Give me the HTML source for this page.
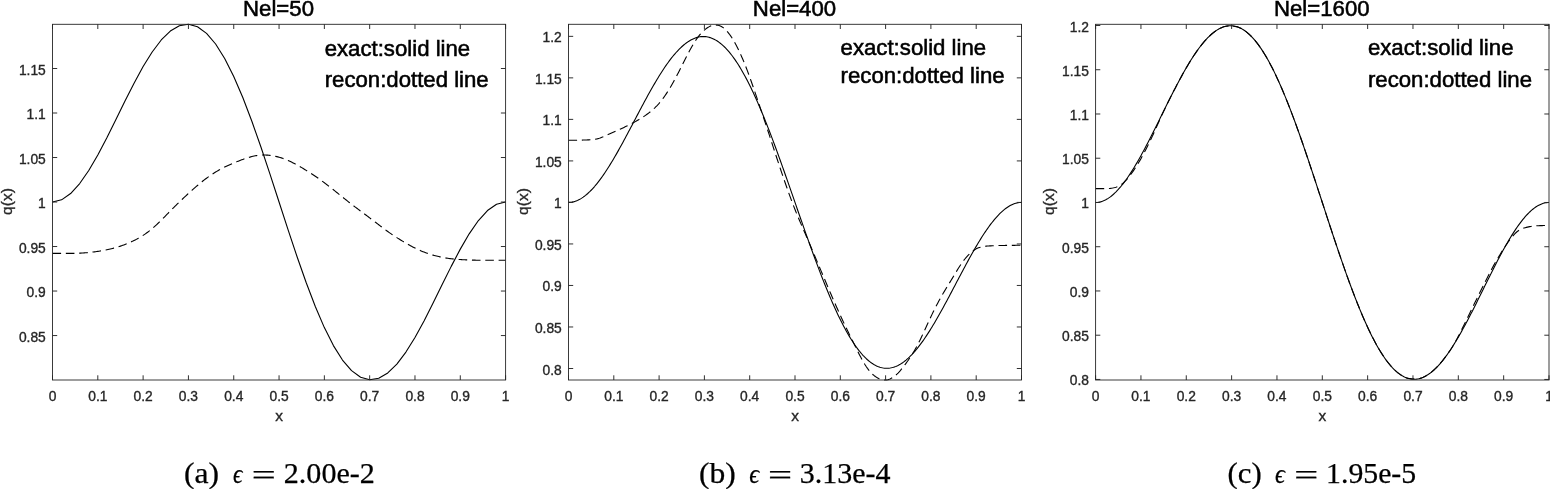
<!DOCTYPE html>
<html lang="en"><head><meta charset="utf-8"><title>Reconstruction of q(x)</title>
<style>
html,body{margin:0;padding:0;background:#fff;}
body{width:1550px;height:489px;overflow:hidden;}
svg{display:block;}
text{fill:#000;}
.tl{font-family:"Liberation Sans", Arial, Helvetica, sans-serif;font-size:13.8px;fill:#262626;stroke:#262626;stroke-width:0.35px;}
.lb{font-family:"Liberation Sans", Arial, Helvetica, sans-serif;font-size:15.5px;fill:#262626;stroke:#262626;stroke-width:0.35px;}
.tt{font-family:"Liberation Sans", Arial, Helvetica, sans-serif;font-size:22.2px;fill:#000;stroke:#000;stroke-width:0.55px;}
.cp{font-family:"Liberation Serif", "DejaVu Serif", serif;font-size:29px;fill:#000;stroke:#000;stroke-width:0.25px;}
.ep{font-style:italic;}
.ax{fill:none;stroke:#262626;stroke-width:0.9;}
.tk{fill:none;stroke:#262626;stroke-width:0.95;}
.cv{fill:none;stroke:#000;stroke-width:1.1;stroke-linejoin:round;}
.ds{stroke-dasharray:8.6 4.74;}
</style></head>
<body>
<svg width="1550" height="489" viewBox="0 0 1550 489">
<rect width="1550" height="489" fill="#fff"/>
<path d="M52.50,202.02 L61.56,199.84 L70.62,193.52 L79.69,183.54 L88.75,170.46 L97.81,154.93 L106.87,137.68 L115.93,119.44 L125.00,101.01 L134.06,83.14 L143.12,66.57 L152.18,51.98 L161.24,39.98 L170.31,31.09 L179.37,25.75 L188.43,24.30 L197.49,26.76 L206.55,33.37 L215.62,44.00 L224.68,58.46 L233.74,76.45 L242.80,97.56 L251.86,121.28 L260.93,147.04 L269.99,174.18 L279.05,202.02 L288.11,229.87 L297.17,257.01 L306.24,282.77 L315.30,306.49 L324.36,327.60 L333.42,345.59 L342.48,360.05 L351.55,370.68 L360.61,377.29 L369.67,379.81 L378.73,378.30 L387.79,372.96 L396.86,364.07 L405.92,352.07 L414.98,337.48 L424.04,320.91 L433.10,303.04 L442.17,284.61 L451.23,266.37 L460.29,249.12 L469.35,233.59 L478.41,220.51 L487.48,210.53 L496.54,204.21 L505.60,202.02" class="cv"/>
<path d="M52.50,253.40 L53.63,253.40 L54.77,253.40 L55.90,253.40 L57.03,253.40 L58.16,253.40 L59.30,253.40 L60.43,253.40 L61.56,253.40 L62.69,253.40 L63.83,253.40 L64.96,253.40 L66.09,253.40 L67.23,253.40 L68.36,253.39 L69.49,253.39 L70.62,253.38 L71.76,253.37 L72.89,253.36 L74.02,253.34 L75.16,253.32 L76.29,253.29 L77.42,253.25 L78.55,253.21 L79.69,253.16 L80.82,253.10 L81.95,253.03 L83.08,252.96 L84.22,252.88 L85.35,252.79 L86.48,252.69 L87.62,252.59 L88.75,252.48 L89.88,252.36 L91.01,252.24 L92.15,252.11 L93.28,251.98 L94.41,251.84 L95.54,251.69 L96.68,251.54 L97.81,251.38 L98.94,251.21 L100.08,251.04 L101.21,250.85 L102.34,250.66 L103.47,250.45 L104.61,250.23 L105.74,250.01 L106.87,249.77 L108.00,249.52 L109.14,249.26 L110.27,248.99 L111.40,248.72 L112.54,248.43 L113.67,248.13 L114.80,247.82 L115.93,247.50 L117.07,247.17 L118.20,246.83 L119.33,246.48 L120.47,246.11 L121.60,245.73 L122.73,245.34 L123.86,244.93 L125.00,244.50 L126.13,244.06 L127.26,243.61 L128.39,243.14 L129.53,242.65 L130.66,242.15 L131.79,241.62 L132.93,241.09 L134.06,240.53 L135.19,239.96 L136.32,239.37 L137.46,238.76 L138.59,238.13 L139.72,237.47 L140.85,236.80 L141.99,236.10 L143.12,235.38 L144.25,234.64 L145.39,233.86 L146.52,233.06 L147.65,232.23 L148.78,231.37 L149.92,230.48 L151.05,229.56 L152.18,228.61 L153.31,227.64 L154.45,226.64 L155.58,225.61 L156.71,224.57 L157.85,223.50 L158.98,222.41 L160.11,221.31 L161.24,220.19 L162.38,219.06 L163.51,217.92 L164.64,216.77 L165.78,215.61 L166.91,214.45 L168.04,213.29 L169.17,212.13 L170.31,210.97 L171.44,209.82 L172.57,208.67 L173.70,207.54 L174.84,206.41 L175.97,205.29 L177.10,204.18 L178.24,203.08 L179.37,201.98 L180.50,200.90 L181.63,199.82 L182.77,198.75 L183.90,197.69 L185.03,196.63 L186.16,195.57 L187.30,194.53 L188.43,193.49 L189.56,192.46 L190.70,191.43 L191.83,190.42 L192.96,189.41 L194.09,188.41 L195.23,187.42 L196.36,186.43 L197.49,185.46 L198.62,184.51 L199.76,183.56 L200.89,182.62 L202.02,181.70 L203.16,180.80 L204.29,179.91 L205.42,179.04 L206.55,178.19 L207.69,177.35 L208.82,176.54 L209.95,175.74 L211.09,174.97 L212.22,174.22 L213.35,173.48 L214.48,172.77 L215.62,172.07 L216.75,171.39 L217.88,170.73 L219.01,170.09 L220.15,169.46 L221.28,168.85 L222.41,168.26 L223.55,167.68 L224.68,167.11 L225.81,166.56 L226.94,166.02 L228.08,165.49 L229.21,164.97 L230.34,164.46 L231.47,163.96 L232.61,163.47 L233.74,162.99 L234.87,162.52 L236.01,162.05 L237.14,161.60 L238.27,161.15 L239.40,160.70 L240.54,160.27 L241.67,159.84 L242.80,159.42 L243.93,159.02 L245.07,158.62 L246.20,158.23 L247.33,157.86 L248.47,157.51 L249.60,157.17 L250.73,156.85 L251.86,156.56 L253.00,156.29 L254.13,156.04 L255.26,155.82 L256.39,155.63 L257.53,155.46 L258.66,155.33 L259.79,155.21 L260.93,155.13 L262.06,155.07 L263.19,155.04 L264.32,155.03 L265.46,155.05 L266.59,155.10 L267.72,155.17 L268.86,155.27 L269.99,155.39 L271.12,155.54 L272.25,155.71 L273.39,155.90 L274.52,156.11 L275.65,156.35 L276.78,156.60 L277.92,156.88 L279.05,157.19 L280.18,157.51 L281.32,157.86 L282.45,158.24 L283.58,158.64 L284.71,159.07 L285.85,159.52 L286.98,159.99 L288.11,160.48 L289.24,160.99 L290.38,161.53 L291.51,162.07 L292.64,162.64 L293.78,163.22 L294.91,163.81 L296.04,164.42 L297.17,165.04 L298.31,165.68 L299.44,166.32 L300.57,166.97 L301.71,167.64 L302.84,168.31 L303.97,168.99 L305.10,169.67 L306.24,170.37 L307.37,171.07 L308.50,171.78 L309.63,172.50 L310.77,173.22 L311.90,173.96 L313.03,174.70 L314.17,175.46 L315.30,176.23 L316.43,177.01 L317.56,177.79 L318.70,178.59 L319.83,179.40 L320.96,180.23 L322.09,181.06 L323.23,181.90 L324.36,182.74 L325.49,183.60 L326.63,184.47 L327.76,185.34 L328.89,186.22 L330.02,187.10 L331.16,187.99 L332.29,188.89 L333.42,189.79 L334.55,190.69 L335.69,191.60 L336.82,192.51 L337.95,193.42 L339.09,194.33 L340.22,195.24 L341.35,196.15 L342.48,197.06 L343.62,197.97 L344.75,198.87 L345.88,199.78 L347.02,200.67 L348.15,201.57 L349.28,202.46 L350.41,203.34 L351.55,204.22 L352.68,205.09 L353.81,205.96 L354.94,206.82 L356.08,207.68 L357.21,208.53 L358.34,209.38 L359.48,210.22 L360.61,211.07 L361.74,211.91 L362.87,212.76 L364.01,213.60 L365.14,214.45 L366.27,215.30 L367.40,216.15 L368.54,217.01 L369.67,217.87 L370.80,218.73 L371.94,219.59 L373.07,220.45 L374.20,221.32 L375.33,222.18 L376.47,223.05 L377.60,223.91 L378.73,224.78 L379.86,225.64 L381.00,226.50 L382.13,227.36 L383.26,228.21 L384.40,229.05 L385.53,229.89 L386.66,230.71 L387.79,231.53 L388.93,232.33 L390.06,233.13 L391.19,233.91 L392.33,234.68 L393.46,235.44 L394.59,236.19 L395.72,236.93 L396.86,237.65 L397.99,238.37 L399.12,239.08 L400.25,239.78 L401.39,240.47 L402.52,241.15 L403.65,241.83 L404.79,242.49 L405.92,243.15 L407.05,243.80 L408.18,244.44 L409.32,245.07 L410.45,245.69 L411.58,246.30 L412.71,246.89 L413.85,247.48 L414.98,248.05 L416.11,248.61 L417.25,249.16 L418.38,249.69 L419.51,250.20 L420.64,250.70 L421.78,251.18 L422.91,251.65 L424.04,252.10 L425.17,252.53 L426.31,252.94 L427.44,253.34 L428.57,253.73 L429.71,254.10 L430.84,254.45 L431.97,254.79 L433.10,255.12 L434.24,255.44 L435.37,255.74 L436.50,256.03 L437.63,256.31 L438.77,256.58 L439.90,256.84 L441.03,257.09 L442.17,257.32 L443.30,257.54 L444.43,257.75 L445.56,257.95 L446.70,258.14 L447.83,258.31 L448.96,258.47 L450.10,258.62 L451.23,258.76 L452.36,258.89 L453.49,259.01 L454.63,259.11 L455.76,259.21 L456.89,259.31 L458.02,259.40 L459.16,259.48 L460.29,259.55 L461.42,259.62 L462.56,259.69 L463.69,259.75 L464.82,259.80 L465.95,259.86 L467.09,259.90 L468.22,259.95 L469.35,259.99 L470.48,260.03 L471.62,260.07 L472.75,260.10 L473.88,260.13 L475.02,260.16 L476.15,260.18 L477.28,260.20 L478.41,260.22 L479.55,260.24 L480.68,260.25 L481.81,260.26 L482.95,260.27 L484.08,260.28 L485.21,260.29 L486.34,260.29 L487.48,260.29 L488.61,260.30 L489.74,260.30 L490.87,260.30 L492.01,260.30 L493.14,260.30 L494.27,260.30 L495.41,260.30 L496.54,260.30 L497.67,260.30 L498.80,260.30 L499.94,260.30 L501.07,260.30 L502.20,260.30 L503.33,260.30 L504.47,260.30 L505.60,260.30" class="cv ds"/>
<rect x="52.50" y="24.30" width="453.10" height="355.70" class="ax"/>
<text x="52.50" y="400.80" class="tl" text-anchor="middle">0</text>
<text x="97.81" y="400.80" class="tl" text-anchor="middle">0.1</text>
<text x="143.12" y="400.80" class="tl" text-anchor="middle">0.2</text>
<text x="188.43" y="400.80" class="tl" text-anchor="middle">0.3</text>
<text x="233.74" y="400.80" class="tl" text-anchor="middle">0.4</text>
<text x="279.05" y="400.80" class="tl" text-anchor="middle">0.5</text>
<text x="324.36" y="400.80" class="tl" text-anchor="middle">0.6</text>
<text x="369.67" y="400.80" class="tl" text-anchor="middle">0.7</text>
<text x="414.98" y="400.80" class="tl" text-anchor="middle">0.8</text>
<text x="460.29" y="400.80" class="tl" text-anchor="middle">0.9</text>
<text x="505.60" y="400.80" class="tl" text-anchor="middle">1</text>
<text x="45.80" y="341.55" class="tl" text-anchor="end">0.85</text>
<text x="45.80" y="297.04" class="tl" text-anchor="end">0.9</text>
<text x="45.80" y="252.53" class="tl" text-anchor="end">0.95</text>
<text x="45.80" y="208.02" class="tl" text-anchor="end">1</text>
<text x="45.80" y="163.52" class="tl" text-anchor="end">1.05</text>
<text x="45.80" y="119.01" class="tl" text-anchor="end">1.1</text>
<text x="45.80" y="74.50" class="tl" text-anchor="end">1.15</text>
<path d="M52.50,380.00v-4.7M52.50,24.30v4.7M97.81,380.00v-4.7M97.81,24.30v4.7M143.12,380.00v-4.7M143.12,24.30v4.7M188.43,380.00v-4.7M188.43,24.30v4.7M233.74,380.00v-4.7M233.74,24.30v4.7M279.05,380.00v-4.7M279.05,24.30v4.7M324.36,380.00v-4.7M324.36,24.30v4.7M369.67,380.00v-4.7M369.67,24.30v4.7M414.98,380.00v-4.7M414.98,24.30v4.7M460.29,380.00v-4.7M460.29,24.30v4.7M505.60,380.00v-4.7M505.60,24.30v4.7M52.50,335.55h4.7M505.60,335.55h-4.7M52.50,291.04h4.7M505.60,291.04h-4.7M52.50,246.53h4.7M505.60,246.53h-4.7M52.50,202.02h4.7M505.60,202.02h-4.7M52.50,157.52h4.7M505.60,157.52h-4.7M52.50,113.01h4.7M505.60,113.01h-4.7M52.50,68.50h4.7M505.60,68.50h-4.7" class="tk"/>
<text x="278.55" y="15.8" class="tt" text-anchor="middle">Nel=50</text>
<text x="279.05" y="421.2" class="lb" text-anchor="middle">x</text>
<text transform="translate(11.90,201.55) rotate(-90)" class="lb" text-anchor="middle">q(x)</text>
<text x="324.66" y="55.6" class="tt">exact:solid line</text>
<text x="324.66" y="86.9" class="tt">recon:dotted line</text>
<path d="M568.50,202.42 L569.63,202.39 L570.76,202.30 L571.90,202.13 L573.03,201.91 L574.16,201.62 L575.29,201.27 L576.43,200.86 L577.56,200.39 L578.69,199.85 L579.83,199.26 L580.96,198.61 L582.09,197.90 L583.22,197.13 L584.36,196.31 L585.49,195.43 L586.62,194.50 L587.75,193.51 L588.88,192.47 L590.02,191.38 L591.15,190.24 L592.28,189.05 L593.41,187.81 L594.55,186.52 L595.68,185.18 L596.81,183.81 L597.95,182.38 L599.08,180.92 L600.21,179.41 L601.34,177.86 L602.48,176.27 L603.61,174.65 L604.74,172.98 L605.87,171.28 L607.00,169.55 L608.14,167.78 L609.27,165.98 L610.40,164.16 L611.53,162.30 L612.67,160.41 L613.80,158.50 L614.93,156.56 L616.07,154.60 L617.20,152.61 L618.33,150.61 L619.46,148.58 L620.60,146.54 L621.73,144.48 L622.86,142.40 L623.99,140.31 L625.12,138.20 L626.26,136.09 L627.39,133.96 L628.52,131.83 L629.65,129.69 L630.79,127.54 L631.92,125.39 L633.05,123.24 L634.18,121.08 L635.32,118.93 L636.45,116.77 L637.58,114.62 L638.72,112.47 L639.85,110.33 L640.98,108.20 L642.11,106.07 L643.25,103.95 L644.38,101.85 L645.51,99.75 L646.64,97.67 L647.77,95.61 L648.91,93.56 L650.04,91.53 L651.17,89.51 L652.30,87.52 L653.44,85.55 L654.57,83.60 L655.70,81.68 L656.84,79.78 L657.97,77.91 L659.10,76.07 L660.23,74.25 L661.37,72.47 L662.50,70.71 L663.63,68.99 L664.76,67.31 L665.89,65.65 L667.03,64.04 L668.16,62.46 L669.29,60.91 L670.42,59.41 L671.56,57.95 L672.69,56.53 L673.82,55.14 L674.96,53.81 L676.09,52.51 L677.22,51.26 L678.35,50.06 L679.49,48.90 L680.62,47.79 L681.75,46.73 L682.88,45.72 L684.01,44.75 L685.15,43.84 L686.28,42.98 L687.41,42.17 L688.54,41.41 L689.68,40.70 L690.81,40.05 L691.94,39.45 L693.08,38.91 L694.21,38.42 L695.34,37.99 L696.47,37.61 L697.61,37.29 L698.74,37.03 L699.87,36.82 L701.00,36.67 L702.13,36.58 L703.27,36.55 L704.40,36.58 L705.53,36.67 L706.66,36.81 L707.80,37.02 L708.93,37.28 L710.06,37.60 L711.19,37.99 L712.33,38.43 L713.46,38.93 L714.59,39.49 L715.73,40.12 L716.86,40.80 L717.99,41.54 L719.12,42.34 L720.25,43.20 L721.39,44.12 L722.52,45.10 L723.65,46.13 L724.79,47.23 L725.92,48.38 L727.05,49.59 L728.18,50.86 L729.32,52.19 L730.45,53.57 L731.58,55.01 L732.71,56.51 L733.85,58.06 L734.98,59.66 L736.11,61.33 L737.24,63.04 L738.38,64.81 L739.51,66.63 L740.64,68.50 L741.77,70.43 L742.90,72.40 L744.04,74.43 L745.17,76.50 L746.30,78.63 L747.43,80.80 L748.57,83.02 L749.70,85.29 L750.83,87.60 L751.97,89.95 L753.10,92.35 L754.23,94.79 L755.36,97.28 L756.50,99.81 L757.63,102.37 L758.76,104.98 L759.89,107.62 L761.02,110.30 L762.16,113.02 L763.29,115.77 L764.42,118.55 L765.56,121.37 L766.69,124.22 L767.82,127.11 L768.95,130.02 L770.09,132.96 L771.22,135.92 L772.35,138.92 L773.48,141.93 L774.62,144.98 L775.75,148.04 L776.88,151.13 L778.01,154.24 L779.14,157.36 L780.28,160.51 L781.41,163.67 L782.54,166.84 L783.67,170.03 L784.81,173.23 L785.94,176.45 L787.07,179.67 L788.20,182.91 L789.34,186.15 L790.47,189.40 L791.60,192.65 L792.74,195.90 L793.87,199.16 L795.00,202.42 L796.13,205.69 L797.26,208.95 L798.40,212.20 L799.53,215.45 L800.66,218.70 L801.80,221.94 L802.93,225.18 L804.06,228.40 L805.19,231.62 L806.33,234.82 L807.46,238.01 L808.59,241.18 L809.72,244.34 L810.86,247.49 L811.99,250.61 L813.12,253.72 L814.25,256.81 L815.38,259.87 L816.52,262.92 L817.65,265.93 L818.78,268.93 L819.91,271.89 L821.05,274.83 L822.18,277.74 L823.31,280.63 L824.45,283.48 L825.58,286.30 L826.71,289.08 L827.84,291.83 L828.98,294.55 L830.11,297.23 L831.24,299.87 L832.37,302.48 L833.50,305.04 L834.64,307.57 L835.77,310.06 L836.90,312.50 L838.03,314.90 L839.17,317.25 L840.30,319.56 L841.43,321.83 L842.57,324.05 L843.70,326.22 L844.83,328.35 L845.96,330.42 L847.10,332.45 L848.23,334.42 L849.36,336.35 L850.49,338.22 L851.62,340.04 L852.76,341.81 L853.89,343.52 L855.02,345.19 L856.15,346.79 L857.29,348.34 L858.42,349.84 L859.55,351.28 L860.68,352.66 L861.82,353.99 L862.95,355.26 L864.08,356.47 L865.22,357.62 L866.35,358.72 L867.48,359.75 L868.61,360.73 L869.75,361.65 L870.88,362.51 L872.01,363.31 L873.14,364.05 L874.28,364.73 L875.41,365.36 L876.54,365.92 L877.67,366.42 L878.81,366.86 L879.94,367.25 L881.07,367.57 L882.20,367.83 L883.34,368.04 L884.47,368.18 L885.60,368.27 L886.73,368.30 L887.87,368.27 L889.00,368.18 L890.13,368.03 L891.26,367.82 L892.39,367.56 L893.53,367.24 L894.66,366.86 L895.79,366.43 L896.92,365.94 L898.06,365.40 L899.19,364.80 L900.32,364.15 L901.45,363.44 L902.59,362.68 L903.72,361.87 L904.85,361.01 L905.99,360.10 L907.12,359.13 L908.25,358.12 L909.38,357.06 L910.51,355.95 L911.65,354.79 L912.78,353.59 L913.91,352.34 L915.05,351.04 L916.18,349.71 L917.31,348.32 L918.44,346.90 L919.58,345.44 L920.71,343.94 L921.84,342.39 L922.97,340.81 L924.11,339.20 L925.24,337.54 L926.37,335.86 L927.50,334.14 L928.63,332.38 L929.77,330.60 L930.90,328.78 L932.03,326.94 L933.16,325.07 L934.30,323.17 L935.43,321.25 L936.56,319.30 L937.70,317.33 L938.83,315.34 L939.96,313.32 L941.09,311.29 L942.23,309.24 L943.36,307.18 L944.49,305.10 L945.62,303.00 L946.75,300.90 L947.89,298.78 L949.02,296.65 L950.15,294.52 L951.28,292.38 L952.42,290.23 L953.55,288.08 L954.68,285.92 L955.82,283.77 L956.95,281.61 L958.08,279.46 L959.21,277.31 L960.35,275.16 L961.48,273.02 L962.61,270.89 L963.74,268.76 L964.88,266.65 L966.01,264.54 L967.14,262.45 L968.27,260.37 L969.40,258.31 L970.54,256.27 L971.67,254.24 L972.80,252.24 L973.93,250.25 L975.07,248.29 L976.20,246.35 L977.33,244.44 L978.47,242.55 L979.60,240.69 L980.73,238.87 L981.86,237.07 L983.00,235.30 L984.13,233.57 L985.26,231.87 L986.39,230.20 L987.53,228.58 L988.66,226.99 L989.79,225.44 L990.92,223.93 L992.06,222.47 L993.19,221.04 L994.32,219.67 L995.45,218.33 L996.59,217.04 L997.72,215.80 L998.85,214.61 L999.98,213.47 L1001.12,212.38 L1002.25,211.34 L1003.38,210.35 L1004.51,209.42 L1005.64,208.54 L1006.78,207.72 L1007.91,206.95 L1009.04,206.24 L1010.17,205.59 L1011.31,205.00 L1012.44,204.46 L1013.57,203.99 L1014.70,203.58 L1015.84,203.23 L1016.97,202.94 L1018.10,202.72 L1019.24,202.55 L1020.37,202.46 L1021.50,202.42" class="cv"/>
<path d="M568.50,140.29 L569.63,140.29 L570.76,140.28 L571.90,140.28 L573.03,140.27 L574.16,140.25 L575.29,140.24 L576.43,140.22 L577.56,140.20 L578.69,140.18 L579.83,140.15 L580.96,140.13 L582.09,140.10 L583.22,140.06 L584.36,140.03 L585.49,139.99 L586.62,139.94 L587.75,139.90 L588.88,139.84 L590.02,139.78 L591.15,139.71 L592.28,139.62 L593.41,139.50 L594.55,139.35 L595.68,139.16 L596.81,138.92 L597.95,138.64 L599.08,138.30 L600.21,137.92 L601.34,137.50 L602.48,137.05 L603.61,136.57 L604.74,136.07 L605.87,135.57 L607.00,135.07 L608.14,134.57 L609.27,134.07 L610.40,133.57 L611.53,133.07 L612.67,132.58 L613.80,132.08 L614.93,131.58 L616.07,131.08 L617.20,130.57 L618.33,130.05 L619.46,129.53 L620.60,129.01 L621.73,128.48 L622.86,127.95 L623.99,127.41 L625.12,126.86 L626.26,126.31 L627.39,125.76 L628.52,125.19 L629.65,124.62 L630.79,124.04 L631.92,123.45 L633.05,122.85 L634.18,122.23 L635.32,121.61 L636.45,120.98 L637.58,120.34 L638.72,119.68 L639.85,119.00 L640.98,118.31 L642.11,117.60 L643.25,116.87 L644.38,116.12 L645.51,115.34 L646.64,114.54 L647.77,113.71 L648.91,112.85 L650.04,111.97 L651.17,111.05 L652.30,110.09 L653.44,109.09 L654.57,108.05 L655.70,106.95 L656.84,105.81 L657.97,104.60 L659.10,103.33 L660.23,101.99 L661.37,100.59 L662.50,99.12 L663.63,97.58 L664.76,95.98 L665.89,94.33 L667.03,92.62 L668.16,90.85 L669.29,89.03 L670.42,87.16 L671.56,85.23 L672.69,83.25 L673.82,81.21 L674.96,79.13 L676.09,77.01 L677.22,74.85 L678.35,72.66 L679.49,70.46 L680.62,68.24 L681.75,66.02 L682.88,63.79 L684.01,61.56 L685.15,59.32 L686.28,57.09 L687.41,54.87 L688.54,52.68 L689.68,50.53 L690.81,48.44 L691.94,46.42 L693.08,44.48 L694.21,42.62 L695.34,40.86 L696.47,39.19 L697.61,37.61 L698.74,36.12 L699.87,34.72 L701.00,33.42 L702.13,32.21 L703.27,31.09 L704.40,30.08 L705.53,29.15 L706.66,28.30 L707.80,27.54 L708.93,26.87 L710.06,26.30 L711.19,25.82 L712.33,25.45 L713.46,25.19 L714.59,25.05 L715.73,25.01 L716.86,25.09 L717.99,25.28 L719.12,25.58 L720.25,25.98 L721.39,26.51 L722.52,27.16 L723.65,27.96 L724.79,28.90 L725.92,29.99 L727.05,31.21 L728.18,32.57 L729.32,34.05 L730.45,35.63 L731.58,37.31 L732.71,39.10 L733.85,40.98 L734.98,42.97 L736.11,45.06 L737.24,47.24 L738.38,49.52 L739.51,51.90 L740.64,54.36 L741.77,56.91 L742.90,59.53 L744.04,62.25 L745.17,65.05 L746.30,67.94 L747.43,70.91 L748.57,73.96 L749.70,77.09 L750.83,80.27 L751.97,83.50 L753.10,86.77 L754.23,90.06 L755.36,93.37 L756.50,96.68 L757.63,100.01 L758.76,103.35 L759.89,106.70 L761.02,110.06 L762.16,113.44 L763.29,116.83 L764.42,120.23 L765.56,123.64 L766.69,127.06 L767.82,130.50 L768.95,133.95 L770.09,137.41 L771.22,140.88 L772.35,144.36 L773.48,147.84 L774.62,151.32 L775.75,154.79 L776.88,158.24 L778.01,161.68 L779.14,165.09 L780.28,168.47 L781.41,171.83 L782.54,175.17 L783.67,178.47 L784.81,181.75 L785.94,185.01 L787.07,188.23 L788.20,191.42 L789.34,194.57 L790.47,197.67 L791.60,200.72 L792.74,203.72 L793.87,206.65 L795.00,209.53 L796.13,212.34 L797.26,215.10 L798.40,217.81 L799.53,220.47 L800.66,223.11 L801.80,225.73 L802.93,228.34 L804.06,230.94 L805.19,233.55 L806.33,236.17 L807.46,238.79 L808.59,241.43 L809.72,244.07 L810.86,246.73 L811.99,249.39 L813.12,252.07 L814.25,254.75 L815.38,257.44 L816.52,260.13 L817.65,262.82 L818.78,265.51 L819.91,268.20 L821.05,270.89 L822.18,273.57 L823.31,276.24 L824.45,278.91 L825.58,281.58 L826.71,284.24 L827.84,286.90 L828.98,289.55 L830.11,292.19 L831.24,294.83 L832.37,297.45 L833.50,300.05 L834.64,302.64 L835.77,305.22 L836.90,307.77 L838.03,310.30 L839.17,312.81 L840.30,315.29 L841.43,317.75 L842.57,320.19 L843.70,322.61 L844.83,325.00 L845.96,327.38 L847.10,329.73 L848.23,332.07 L849.36,334.39 L850.49,336.69 L851.62,338.99 L852.76,341.28 L853.89,343.57 L855.02,345.86 L856.15,348.14 L857.29,350.42 L858.42,352.67 L859.55,354.90 L860.68,357.08 L861.82,359.19 L862.95,361.23 L864.08,363.16 L865.22,365.00 L866.35,366.72 L867.48,368.33 L868.61,369.82 L869.75,371.21 L870.88,372.49 L872.01,373.67 L873.14,374.73 L874.28,375.70 L875.41,376.56 L876.54,377.33 L877.67,378.00 L878.81,378.59 L879.94,379.08 L881.07,379.49 L882.20,379.80 L883.34,380.00 L884.47,380.00 L885.60,380.00 L886.73,379.96 L887.87,379.71 L889.00,379.36 L890.13,378.90 L891.26,378.34 L892.39,377.69 L893.53,376.95 L894.66,376.11 L895.79,375.18 L896.92,374.15 L898.06,373.03 L899.19,371.81 L900.32,370.53 L901.45,369.18 L902.59,367.77 L903.72,366.33 L904.85,364.85 L905.99,363.34 L907.12,361.79 L908.25,360.20 L909.38,358.56 L910.51,356.88 L911.65,355.13 L912.78,353.33 L913.91,351.45 L915.05,349.50 L916.18,347.48 L917.31,345.38 L918.44,343.21 L919.58,340.97 L920.71,338.67 L921.84,336.31 L922.97,333.92 L924.11,331.49 L925.24,329.03 L926.37,326.56 L927.50,324.09 L928.63,321.63 L929.77,319.19 L930.90,316.77 L932.03,314.38 L933.16,312.04 L934.30,309.74 L935.43,307.49 L936.56,305.29 L937.70,303.14 L938.83,301.03 L939.96,298.97 L941.09,296.95 L942.23,294.97 L943.36,293.02 L944.49,291.11 L945.62,289.22 L946.75,287.36 L947.89,285.51 L949.02,283.67 L950.15,281.84 L951.28,279.99 L952.42,278.14 L953.55,276.28 L954.68,274.41 L955.82,272.53 L956.95,270.65 L958.08,268.80 L959.21,266.99 L960.35,265.23 L961.48,263.54 L962.61,261.94 L963.74,260.42 L964.88,258.99 L966.01,257.64 L967.14,256.38 L968.27,255.19 L969.40,254.06 L970.54,253.01 L971.67,252.01 L972.80,251.10 L973.93,250.26 L975.07,249.51 L976.20,248.86 L977.33,248.30 L978.47,247.83 L979.60,247.43 L980.73,247.11 L981.86,246.84 L983.00,246.62 L984.13,246.44 L985.26,246.30 L986.39,246.17 L987.53,246.07 L988.66,245.98 L989.79,245.90 L990.92,245.84 L992.06,245.78 L993.19,245.72 L994.32,245.68 L995.45,245.64 L996.59,245.60 L997.72,245.57 L998.85,245.54 L999.98,245.51 L1001.12,245.49 L1002.25,245.47 L1003.38,245.45 L1004.51,245.44 L1005.64,245.42 L1006.78,245.41 L1007.91,245.39 L1009.04,245.38 L1010.17,245.37 L1011.31,245.36 L1012.44,245.35 L1013.57,245.34 L1014.70,245.33 L1015.84,245.32 L1016.97,245.32 L1018.10,245.31 L1019.24,245.31 L1020.37,245.31 L1021.50,245.30" class="cv ds"/>
<rect x="568.50" y="24.30" width="453.00" height="355.70" class="ax"/>
<text x="568.50" y="400.80" class="tl" text-anchor="middle">0</text>
<text x="613.80" y="400.80" class="tl" text-anchor="middle">0.1</text>
<text x="659.10" y="400.80" class="tl" text-anchor="middle">0.2</text>
<text x="704.40" y="400.80" class="tl" text-anchor="middle">0.3</text>
<text x="749.70" y="400.80" class="tl" text-anchor="middle">0.4</text>
<text x="795.00" y="400.80" class="tl" text-anchor="middle">0.5</text>
<text x="840.30" y="400.80" class="tl" text-anchor="middle">0.6</text>
<text x="885.60" y="400.80" class="tl" text-anchor="middle">0.7</text>
<text x="930.90" y="400.80" class="tl" text-anchor="middle">0.8</text>
<text x="976.20" y="400.80" class="tl" text-anchor="middle">0.9</text>
<text x="1021.50" y="400.80" class="tl" text-anchor="middle">1</text>
<text x="561.80" y="374.50" class="tl" text-anchor="end">0.8</text>
<text x="561.80" y="332.98" class="tl" text-anchor="end">0.85</text>
<text x="561.80" y="291.46" class="tl" text-anchor="end">0.9</text>
<text x="561.80" y="249.94" class="tl" text-anchor="end">0.95</text>
<text x="561.80" y="208.42" class="tl" text-anchor="end">1</text>
<text x="561.80" y="166.91" class="tl" text-anchor="end">1.05</text>
<text x="561.80" y="125.39" class="tl" text-anchor="end">1.1</text>
<text x="561.80" y="83.87" class="tl" text-anchor="end">1.15</text>
<text x="561.80" y="42.35" class="tl" text-anchor="end">1.2</text>
<path d="M568.50,380.00v-4.7M568.50,24.30v4.7M613.80,380.00v-4.7M613.80,24.30v4.7M659.10,380.00v-4.7M659.10,24.30v4.7M704.40,380.00v-4.7M704.40,24.30v4.7M749.70,380.00v-4.7M749.70,24.30v4.7M795.00,380.00v-4.7M795.00,24.30v4.7M840.30,380.00v-4.7M840.30,24.30v4.7M885.60,380.00v-4.7M885.60,24.30v4.7M930.90,380.00v-4.7M930.90,24.30v4.7M976.20,380.00v-4.7M976.20,24.30v4.7M1021.50,380.00v-4.7M1021.50,24.30v4.7M568.50,368.50h4.7M1021.50,368.50h-4.7M568.50,326.98h4.7M1021.50,326.98h-4.7M568.50,285.46h4.7M1021.50,285.46h-4.7M568.50,243.94h4.7M1021.50,243.94h-4.7M568.50,202.42h4.7M1021.50,202.42h-4.7M568.50,160.91h4.7M1021.50,160.91h-4.7M568.50,119.39h4.7M1021.50,119.39h-4.7M568.50,77.87h4.7M1021.50,77.87h-4.7M568.50,36.35h4.7M1021.50,36.35h-4.7" class="tk"/>
<text x="794.50" y="15.8" class="tt" text-anchor="middle">Nel=400</text>
<text x="795.00" y="421.2" class="lb" text-anchor="middle">x</text>
<text transform="translate(527.90,201.55) rotate(-90)" class="lb" text-anchor="middle">q(x)</text>
<text x="840.60" y="54.5" class="tt">exact:solid line</text>
<text x="840.60" y="83.1" class="tt">recon:dotted line</text>
<path d="M1095.60,202.47 L1096.73,202.44 L1097.87,202.34 L1099.00,202.16 L1100.13,201.92 L1101.27,201.62 L1102.40,201.24 L1103.53,200.81 L1104.67,200.30 L1105.80,199.73 L1106.93,199.10 L1108.07,198.41 L1109.20,197.65 L1110.34,196.83 L1111.47,195.96 L1112.60,195.02 L1113.74,194.02 L1114.87,192.97 L1116.00,191.87 L1117.14,190.70 L1118.27,189.49 L1119.40,188.22 L1120.54,186.90 L1121.67,185.52 L1122.80,184.10 L1123.94,182.63 L1125.07,181.12 L1126.20,179.55 L1127.34,177.95 L1128.47,176.30 L1129.61,174.61 L1130.74,172.87 L1131.87,171.10 L1133.01,169.29 L1134.14,167.44 L1135.27,165.56 L1136.41,163.64 L1137.54,161.69 L1138.67,159.71 L1139.81,157.70 L1140.94,155.66 L1142.07,153.60 L1143.21,151.51 L1144.34,149.39 L1145.47,147.26 L1146.61,145.10 L1147.74,142.92 L1148.87,140.72 L1150.01,138.51 L1151.14,136.28 L1152.27,134.04 L1153.41,131.78 L1154.54,129.52 L1155.68,127.25 L1156.81,124.97 L1157.94,122.68 L1159.08,120.39 L1160.21,118.09 L1161.34,115.79 L1162.48,113.50 L1163.61,111.20 L1164.74,108.91 L1165.88,106.62 L1167.01,104.34 L1168.14,102.06 L1169.28,99.79 L1170.41,97.54 L1171.54,95.29 L1172.68,93.06 L1173.81,90.85 L1174.94,88.65 L1176.08,86.46 L1177.21,84.30 L1178.35,82.15 L1179.48,80.03 L1180.61,77.93 L1181.75,75.86 L1182.88,73.81 L1184.01,71.78 L1185.15,69.79 L1186.28,67.82 L1187.41,65.89 L1188.55,63.99 L1189.68,62.12 L1190.81,60.29 L1191.95,58.49 L1193.08,56.73 L1194.21,55.00 L1195.35,53.32 L1196.48,51.68 L1197.62,50.07 L1198.75,48.52 L1199.88,47.00 L1201.02,45.53 L1202.15,44.10 L1203.28,42.72 L1204.42,41.39 L1205.55,40.11 L1206.68,38.88 L1207.82,37.69 L1208.95,36.56 L1210.08,35.48 L1211.22,34.45 L1212.35,33.48 L1213.48,32.56 L1214.62,31.70 L1215.75,30.89 L1216.88,30.14 L1218.02,29.44 L1219.15,28.80 L1220.28,28.23 L1221.42,27.70 L1222.55,27.24 L1223.69,26.84 L1224.82,26.50 L1225.95,26.22 L1227.09,26.00 L1228.22,25.85 L1229.35,25.75 L1230.49,25.72 L1231.62,25.75 L1232.75,25.84 L1233.89,25.99 L1235.02,26.21 L1236.15,26.49 L1237.29,26.84 L1238.42,27.24 L1239.55,27.72 L1240.69,28.25 L1241.82,28.85 L1242.95,29.51 L1244.09,30.24 L1245.22,31.03 L1246.36,31.88 L1247.49,32.80 L1248.62,33.78 L1249.76,34.82 L1250.89,35.93 L1252.02,37.09 L1253.16,38.32 L1254.29,39.61 L1255.42,40.96 L1256.56,42.38 L1257.69,43.85 L1258.82,45.39 L1259.96,46.98 L1261.09,48.63 L1262.22,50.34 L1263.36,52.11 L1264.49,53.94 L1265.62,55.83 L1266.76,57.77 L1267.89,59.76 L1269.03,61.81 L1270.16,63.92 L1271.29,66.08 L1272.43,68.29 L1273.56,70.55 L1274.69,72.87 L1275.83,75.23 L1276.96,77.65 L1278.09,80.11 L1279.23,82.62 L1280.36,85.18 L1281.49,87.78 L1282.63,90.43 L1283.76,93.12 L1284.89,95.85 L1286.03,98.63 L1287.16,101.45 L1288.29,104.30 L1289.43,107.20 L1290.56,110.13 L1291.70,113.10 L1292.83,116.10 L1293.96,119.14 L1295.10,122.21 L1296.23,125.31 L1297.36,128.45 L1298.50,131.61 L1299.63,134.80 L1300.76,138.01 L1301.90,141.26 L1303.03,144.52 L1304.16,147.81 L1305.30,151.12 L1306.43,154.45 L1307.56,157.80 L1308.70,161.17 L1309.83,164.56 L1310.96,167.96 L1312.10,171.37 L1313.23,174.79 L1314.37,178.23 L1315.50,181.68 L1316.63,185.13 L1317.77,188.59 L1318.90,192.06 L1320.03,195.53 L1321.17,199.00 L1322.30,202.47 L1323.43,205.95 L1324.57,209.42 L1325.70,212.89 L1326.83,216.36 L1327.97,219.82 L1329.10,223.27 L1330.23,226.72 L1331.37,230.16 L1332.50,233.58 L1333.63,236.99 L1334.77,240.39 L1335.90,243.78 L1337.04,247.15 L1338.17,250.50 L1339.30,253.83 L1340.44,257.14 L1341.57,260.43 L1342.70,263.69 L1343.84,266.94 L1344.97,270.15 L1346.10,273.34 L1347.24,276.50 L1348.37,279.64 L1349.50,282.74 L1350.64,285.81 L1351.77,288.85 L1352.90,291.85 L1354.04,294.82 L1355.17,297.75 L1356.31,300.65 L1357.44,303.50 L1358.57,306.32 L1359.71,309.10 L1360.84,311.83 L1361.97,314.52 L1363.11,317.17 L1364.24,319.77 L1365.37,322.33 L1366.51,324.84 L1367.64,327.30 L1368.77,329.72 L1369.91,332.08 L1371.04,334.40 L1372.17,336.66 L1373.31,338.87 L1374.44,341.03 L1375.57,343.14 L1376.71,345.19 L1377.84,347.18 L1378.97,349.12 L1380.11,351.01 L1381.24,352.84 L1382.38,354.61 L1383.51,356.32 L1384.64,357.97 L1385.78,359.56 L1386.91,361.10 L1388.04,362.57 L1389.18,363.99 L1390.31,365.34 L1391.44,366.63 L1392.58,367.86 L1393.71,369.02 L1394.84,370.13 L1395.98,371.17 L1397.11,372.15 L1398.24,373.07 L1399.38,373.92 L1400.51,374.71 L1401.64,375.44 L1402.78,376.10 L1403.91,376.70 L1405.05,377.23 L1406.18,377.71 L1407.31,378.11 L1408.45,378.46 L1409.58,378.74 L1410.71,378.96 L1411.85,379.11 L1412.98,379.20 L1414.11,379.23 L1415.25,379.20 L1416.38,379.10 L1417.51,378.95 L1418.65,378.73 L1419.78,378.45 L1420.91,378.11 L1422.05,377.71 L1423.18,377.25 L1424.32,376.72 L1425.45,376.15 L1426.58,375.51 L1427.72,374.81 L1428.85,374.06 L1429.98,373.25 L1431.12,372.39 L1432.25,371.47 L1433.38,370.50 L1434.52,369.47 L1435.65,368.39 L1436.78,367.26 L1437.92,366.07 L1439.05,364.84 L1440.18,363.56 L1441.32,362.23 L1442.45,360.85 L1443.58,359.42 L1444.72,357.95 L1445.85,356.43 L1446.99,354.88 L1448.12,353.27 L1449.25,351.63 L1450.39,349.95 L1451.52,348.22 L1452.65,346.46 L1453.79,344.66 L1454.92,342.83 L1456.05,340.96 L1457.19,339.06 L1458.32,337.13 L1459.45,335.16 L1460.59,333.17 L1461.72,331.14 L1462.85,329.09 L1463.99,327.02 L1465.12,324.92 L1466.25,322.80 L1467.39,320.65 L1468.52,318.49 L1469.65,316.30 L1470.79,314.10 L1471.92,311.89 L1473.06,309.66 L1474.19,307.41 L1475.32,305.16 L1476.46,302.89 L1477.59,300.61 L1478.72,298.33 L1479.86,296.04 L1480.99,293.75 L1482.12,291.45 L1483.26,289.16 L1484.39,286.86 L1485.52,284.56 L1486.66,282.27 L1487.79,279.98 L1488.92,277.70 L1490.06,275.43 L1491.19,273.17 L1492.33,270.91 L1493.46,268.67 L1494.59,266.44 L1495.73,264.23 L1496.86,262.03 L1497.99,259.85 L1499.13,257.69 L1500.26,255.56 L1501.39,253.44 L1502.53,251.35 L1503.66,249.29 L1504.79,247.25 L1505.93,245.24 L1507.06,243.26 L1508.19,241.31 L1509.33,239.39 L1510.46,237.51 L1511.59,235.66 L1512.73,233.85 L1513.86,232.08 L1514.99,230.34 L1516.13,228.65 L1517.26,227.00 L1518.40,225.40 L1519.53,223.83 L1520.66,222.32 L1521.80,220.85 L1522.93,219.43 L1524.06,218.05 L1525.20,216.73 L1526.33,215.46 L1527.46,214.25 L1528.60,213.08 L1529.73,211.98 L1530.86,210.93 L1532.00,209.93 L1533.13,208.99 L1534.26,208.12 L1535.40,207.30 L1536.53,206.54 L1537.66,205.85 L1538.80,205.22 L1539.93,204.65 L1541.07,204.14 L1542.20,203.71 L1543.33,203.33 L1544.47,203.03 L1545.60,202.79 L1546.73,202.61 L1547.87,202.51 L1549.00,202.47" class="cv"/>
<path d="M1095.60,188.67 L1096.73,188.67 L1097.87,188.66 L1099.00,188.66 L1100.13,188.65 L1101.27,188.64 L1102.40,188.62 L1103.53,188.61 L1104.67,188.59 L1105.80,188.57 L1106.93,188.54 L1108.07,188.51 L1109.20,188.45 L1110.34,188.36 L1111.47,188.23 L1112.60,188.05 L1113.74,187.83 L1114.87,187.55 L1116.00,187.23 L1117.14,186.85 L1118.27,186.39 L1119.40,185.82 L1120.54,185.11 L1121.67,184.28 L1122.80,183.33 L1123.94,182.30 L1125.07,181.20 L1126.20,180.02 L1127.34,178.76 L1128.47,177.42 L1129.61,175.99 L1130.74,174.50 L1131.87,172.94 L1133.01,171.33 L1134.14,169.67 L1135.27,167.97 L1136.41,166.23 L1137.54,164.43 L1138.67,162.57 L1139.81,160.65 L1140.94,158.65 L1142.07,156.60 L1143.21,154.49 L1144.34,152.34 L1145.47,150.15 L1146.61,147.93 L1147.74,145.68 L1148.87,143.41 L1150.01,141.11 L1151.14,138.76 L1152.27,136.36 L1153.41,133.91 L1154.54,131.40 L1155.68,128.87 L1156.81,126.31 L1157.94,123.74 L1159.08,121.18 L1160.21,118.64 L1161.34,116.14 L1162.48,113.68 L1163.61,111.26 L1164.74,108.90 L1165.88,106.57 L1167.01,104.27 L1168.14,102.00 L1169.28,99.74 L1170.41,97.51 L1171.54,95.28 L1172.68,93.07 L1173.81,90.87 L1174.94,88.67 L1176.08,86.49 L1177.21,84.32 L1178.35,82.17 L1179.48,80.05 L1180.61,77.96 L1181.75,75.89 L1182.88,73.84 L1184.01,71.82 L1185.15,69.83 L1186.28,67.86 L1187.41,65.92 L1188.55,64.02 L1189.68,62.16 L1190.81,60.33 L1191.95,58.54 L1193.08,56.78 L1194.21,55.05 L1195.35,53.36 L1196.48,51.72 L1197.62,50.11 L1198.75,48.56 L1199.88,47.05 L1201.02,45.59 L1202.15,44.17 L1203.28,42.78 L1204.42,41.44 L1205.55,40.15 L1206.68,38.92 L1207.82,37.74 L1208.95,36.62 L1210.08,35.55 L1211.22,34.52 L1212.35,33.54 L1213.48,32.60 L1214.62,31.72 L1215.75,30.91 L1216.88,30.17 L1218.02,29.50 L1219.15,28.87 L1220.28,28.29 L1221.42,27.73 L1222.55,27.24 L1223.69,26.81 L1224.82,26.47 L1225.95,26.24 L1227.09,26.11 L1228.22,26.06 L1229.35,26.07 L1230.49,26.10 L1231.62,26.16 L1232.75,26.23 L1233.89,26.31 L1235.02,26.43 L1236.15,26.60 L1237.29,26.85 L1238.42,27.20 L1239.55,27.67 L1240.69,28.23 L1241.82,28.87 L1242.95,29.57 L1244.09,30.31 L1245.22,31.09 L1246.36,31.93 L1247.49,32.84 L1248.62,33.82 L1249.76,34.88 L1250.89,36.00 L1252.02,37.18 L1253.16,38.41 L1254.29,39.69 L1255.42,41.03 L1256.56,42.43 L1257.69,43.91 L1258.82,45.45 L1259.96,47.06 L1261.09,48.71 L1262.22,50.42 L1263.36,52.19 L1264.49,54.00 L1265.62,55.88 L1266.76,57.82 L1267.89,59.83 L1269.03,61.89 L1270.16,63.99 L1271.29,66.15 L1272.43,68.35 L1273.56,70.61 L1274.69,72.92 L1275.83,75.29 L1276.96,77.70 L1278.09,80.17 L1279.23,82.69 L1280.36,85.24 L1281.49,87.84 L1282.63,90.48 L1283.76,93.17 L1284.89,95.90 L1286.03,98.68 L1287.16,101.50 L1288.29,104.36 L1289.43,107.25 L1290.56,110.18 L1291.70,113.14 L1292.83,116.14 L1293.96,119.18 L1295.10,122.25 L1296.23,125.36 L1297.36,128.49 L1298.50,131.65 L1299.63,134.83 L1300.76,138.04 L1301.90,141.28 L1303.03,144.55 L1304.16,147.84 L1305.30,151.15 L1306.43,154.48 L1307.56,157.83 L1308.70,161.19 L1309.83,164.57 L1310.96,167.97 L1312.10,171.38 L1313.23,174.81 L1314.37,178.24 L1315.50,181.69 L1316.63,185.14 L1317.77,188.60 L1318.90,192.06 L1320.03,195.53 L1321.17,199.00 L1322.30,202.47 L1323.43,205.95 L1324.57,209.42 L1325.70,212.89 L1326.83,216.35 L1327.97,219.81 L1329.10,223.26 L1330.23,226.71 L1331.37,230.14 L1332.50,233.57 L1333.63,236.98 L1334.77,240.38 L1335.90,243.76 L1337.04,247.12 L1338.17,250.47 L1339.30,253.80 L1340.44,257.11 L1341.57,260.40 L1342.70,263.67 L1343.84,266.91 L1344.97,270.12 L1346.10,273.30 L1347.24,276.46 L1348.37,279.59 L1349.50,282.70 L1350.64,285.77 L1351.77,288.81 L1352.90,291.81 L1354.04,294.77 L1355.17,297.70 L1356.31,300.59 L1357.44,303.45 L1358.57,306.27 L1359.71,309.05 L1360.84,311.78 L1361.97,314.47 L1363.11,317.11 L1364.24,319.71 L1365.37,322.26 L1366.51,324.78 L1367.64,327.25 L1368.77,329.66 L1369.91,332.03 L1371.04,334.34 L1372.17,336.60 L1373.31,338.80 L1374.44,340.96 L1375.57,343.06 L1376.71,345.12 L1377.84,347.13 L1378.97,349.07 L1380.11,350.95 L1381.24,352.76 L1382.38,354.53 L1383.51,356.24 L1384.64,357.89 L1385.78,359.50 L1386.91,361.04 L1388.04,362.52 L1389.18,363.92 L1390.31,365.26 L1391.44,366.54 L1392.58,367.77 L1393.71,368.95 L1394.84,370.07 L1395.98,371.13 L1397.11,372.11 L1398.24,373.02 L1399.38,373.86 L1400.51,374.64 L1401.64,375.38 L1402.78,376.08 L1403.91,376.72 L1405.05,377.28 L1406.18,377.75 L1407.31,378.10 L1408.45,378.35 L1409.58,378.52 L1410.71,378.64 L1411.85,378.72 L1412.98,378.79 L1414.11,378.85 L1415.25,378.88 L1416.38,378.89 L1417.51,378.84 L1418.65,378.71 L1419.78,378.48 L1420.91,378.14 L1422.05,377.71 L1423.18,377.22 L1424.32,376.66 L1425.45,376.08 L1426.58,375.45 L1427.72,374.78 L1428.85,374.04 L1429.98,373.23 L1431.12,372.35 L1432.25,371.41 L1433.38,370.43 L1434.52,369.40 L1435.65,368.33 L1436.78,367.21 L1437.92,366.03 L1439.05,364.80 L1440.18,363.51 L1441.32,362.17 L1442.45,360.78 L1443.58,359.36 L1444.72,357.91 L1445.85,356.41 L1446.99,354.88 L1448.12,353.29 L1449.25,351.66 L1450.39,349.98 L1451.52,348.24 L1452.65,346.43 L1453.79,344.56 L1454.92,342.62 L1456.05,340.60 L1457.19,338.51 L1458.32,336.35 L1459.45,334.13 L1460.59,331.87 L1461.72,329.57 L1462.85,327.26 L1463.99,324.94 L1465.12,322.62 L1466.25,320.31 L1467.39,318.00 L1468.52,315.70 L1469.65,313.40 L1470.79,311.08 L1471.92,308.76 L1473.06,306.43 L1474.19,304.09 L1475.32,301.75 L1476.46,299.42 L1477.59,297.10 L1478.72,294.80 L1479.86,292.50 L1480.99,290.22 L1482.12,287.95 L1483.26,285.67 L1484.39,283.41 L1485.52,281.14 L1486.66,278.89 L1487.79,276.65 L1488.92,274.43 L1490.06,272.24 L1491.19,270.08 L1492.33,267.96 L1493.46,265.88 L1494.59,263.84 L1495.73,261.84 L1496.86,259.87 L1497.99,257.94 L1499.13,256.04 L1500.26,254.17 L1501.39,252.33 L1502.53,250.52 L1503.66,248.74 L1504.79,246.99 L1505.93,245.27 L1507.06,243.60 L1508.19,241.97 L1509.33,240.41 L1510.46,238.92 L1511.59,237.48 L1512.73,236.11 L1513.86,234.80 L1514.99,233.58 L1516.13,232.48 L1517.26,231.52 L1518.40,230.70 L1519.53,230.00 L1520.66,229.41 L1521.80,228.89 L1522.93,228.43 L1524.06,228.03 L1525.20,227.69 L1526.33,227.38 L1527.46,227.12 L1528.60,226.88 L1529.73,226.66 L1530.86,226.46 L1532.00,226.28 L1533.13,226.12 L1534.26,225.99 L1535.40,225.88 L1536.53,225.80 L1537.66,225.74 L1538.80,225.69 L1539.93,225.65 L1541.07,225.61 L1542.20,225.58 L1543.33,225.55 L1544.47,225.53 L1545.60,225.51 L1546.73,225.50 L1547.87,225.49 L1549.00,225.49" class="cv ds"/>
<rect x="1095.60" y="24.30" width="453.40" height="355.70" class="ax"/>
<text x="1095.60" y="400.80" class="tl" text-anchor="middle">0</text>
<text x="1140.94" y="400.80" class="tl" text-anchor="middle">0.1</text>
<text x="1186.28" y="400.80" class="tl" text-anchor="middle">0.2</text>
<text x="1231.62" y="400.80" class="tl" text-anchor="middle">0.3</text>
<text x="1276.96" y="400.80" class="tl" text-anchor="middle">0.4</text>
<text x="1322.30" y="400.80" class="tl" text-anchor="middle">0.5</text>
<text x="1367.64" y="400.80" class="tl" text-anchor="middle">0.6</text>
<text x="1412.98" y="400.80" class="tl" text-anchor="middle">0.7</text>
<text x="1458.32" y="400.80" class="tl" text-anchor="middle">0.8</text>
<text x="1503.66" y="400.80" class="tl" text-anchor="middle">0.9</text>
<text x="1549.00" y="400.80" class="tl" text-anchor="middle">1</text>
<text x="1088.90" y="385.45" class="tl" text-anchor="end">0.8</text>
<text x="1088.90" y="341.21" class="tl" text-anchor="end">0.85</text>
<text x="1088.90" y="296.96" class="tl" text-anchor="end">0.9</text>
<text x="1088.90" y="252.72" class="tl" text-anchor="end">0.95</text>
<text x="1088.90" y="208.47" class="tl" text-anchor="end">1</text>
<text x="1088.90" y="164.23" class="tl" text-anchor="end">1.05</text>
<text x="1088.90" y="119.99" class="tl" text-anchor="end">1.1</text>
<text x="1088.90" y="75.74" class="tl" text-anchor="end">1.15</text>
<text x="1088.90" y="31.50" class="tl" text-anchor="end">1.2</text>
<path d="M1095.60,380.00v-4.7M1095.60,24.30v4.7M1140.94,380.00v-4.7M1140.94,24.30v4.7M1186.28,380.00v-4.7M1186.28,24.30v4.7M1231.62,380.00v-4.7M1231.62,24.30v4.7M1276.96,380.00v-4.7M1276.96,24.30v4.7M1322.30,380.00v-4.7M1322.30,24.30v4.7M1367.64,380.00v-4.7M1367.64,24.30v4.7M1412.98,380.00v-4.7M1412.98,24.30v4.7M1458.32,380.00v-4.7M1458.32,24.30v4.7M1503.66,380.00v-4.7M1503.66,24.30v4.7M1549.00,380.00v-4.7M1549.00,24.30v4.7M1095.60,379.45h4.7M1549.00,379.45h-4.7M1095.60,335.21h4.7M1549.00,335.21h-4.7M1095.60,290.96h4.7M1549.00,290.96h-4.7M1095.60,246.72h4.7M1549.00,246.72h-4.7M1095.60,202.47h4.7M1549.00,202.47h-4.7M1095.60,158.23h4.7M1549.00,158.23h-4.7M1095.60,113.99h4.7M1549.00,113.99h-4.7M1095.60,69.74h4.7M1549.00,69.74h-4.7M1095.60,25.50h4.7M1549.00,25.50h-4.7" class="tk"/>
<text x="1321.80" y="15.8" class="tt" text-anchor="middle">Nel=1600</text>
<text x="1322.30" y="421.2" class="lb" text-anchor="middle">x</text>
<text transform="translate(1054.40,201.55) rotate(-90)" class="lb" text-anchor="middle">q(x)</text>
<text x="1367.94" y="55.4" class="tt">exact:solid line</text>
<text x="1367.94" y="86.9" class="tt">recon:dotted line</text>
<text x="184.01" y="482.85" class="cp" style="font-size:29.0px" textLength="35.08" lengthAdjust="spacingAndGlyphs">(a)</text>
<text x="232.91" y="482.85" class="cp ep" style="font-size:28.0px" textLength="9.34" lengthAdjust="spacingAndGlyphs">ϵ</text>
<text x="251.88" y="485.45000000000005" class="cp" style="font-size:29.0px" textLength="24.00" lengthAdjust="spacingAndGlyphs">=</text>
<text x="283.78" y="482.85" class="cp" style="font-size:29.0px" textLength="91.08" lengthAdjust="spacingAndGlyphs">2.00e-2</text>
<text x="698.91" y="482.85" class="cp" style="font-size:29.0px" textLength="36.77" lengthAdjust="spacingAndGlyphs">(b)</text>
<text x="749.27" y="482.85" class="cp ep" style="font-size:28.0px" textLength="9.84" lengthAdjust="spacingAndGlyphs">ϵ</text>
<text x="768.07" y="485.45000000000005" class="cp" style="font-size:29.0px" textLength="24.12" lengthAdjust="spacingAndGlyphs">=</text>
<text x="799.66" y="482.85" class="cp" style="font-size:29.0px" textLength="90.80" lengthAdjust="spacingAndGlyphs">3.13e-4</text>
<text x="1227.55" y="482.85" class="cp" style="font-size:29.0px" textLength="34.10" lengthAdjust="spacingAndGlyphs">(c)</text>
<text x="1274.97" y="482.85" class="cp ep" style="font-size:28.0px" textLength="9.84" lengthAdjust="spacingAndGlyphs">ϵ</text>
<text x="1294.18" y="485.45000000000005" class="cp" style="font-size:29.0px" textLength="24.00" lengthAdjust="spacingAndGlyphs">=</text>
<text x="1326.08" y="482.85" class="cp" style="font-size:29.0px" textLength="90.08" lengthAdjust="spacingAndGlyphs">1.95e-5</text>
</svg>
</body></html>
